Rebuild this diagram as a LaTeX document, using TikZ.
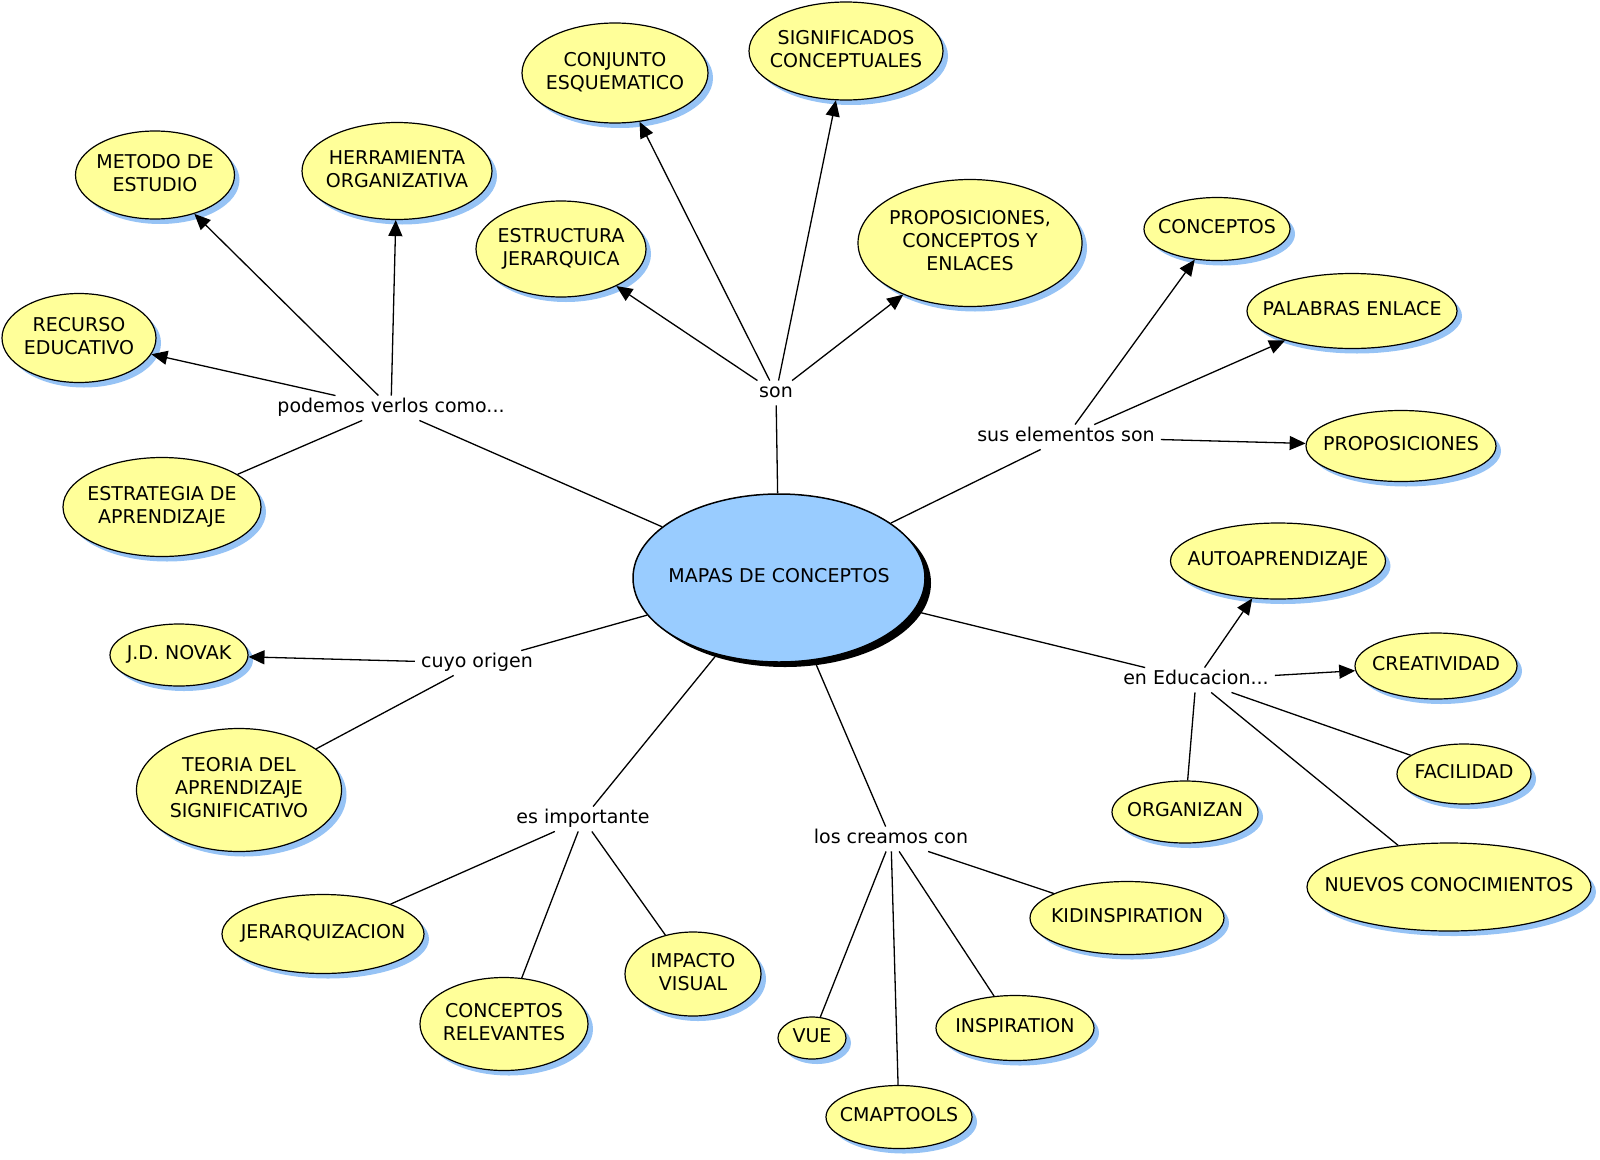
\documentclass[tikz,border=0pt]{standalone}
\usepackage{fontspec}
\setmainfont{DejaVu Sans}
\usetikzlibrary{shapes.geometric,shadows,arrows.meta}
\definecolor{cmyellow}{RGB}{255,255,153}
\definecolor{cmblue}{RGB}{153,204,255}
\definecolor{cmshadow}{RGB}{150,195,245}
\newcommand{\ctxt}[1]{\raisebox{-2pt}{\makebox[0pt]{\begin{tabular}{@{}c@{}}#1\end{tabular}}}}
\tikzset{
  concept/.style 2 args={ellipse, draw, line width=1.2pt, fill=cmyellow,
    minimum width=#1pt, minimum height=#2pt, inner sep=0pt,
    drop shadow={shadow xshift=5pt, shadow yshift=-5pt, fill=cmshadow, opacity=1}},
  linkword/.style={inner xsep=6pt, inner ysep=3pt, text height=14pt, text depth=4.5pt},
  ln/.style={line width=1.3pt},
  arr/.style={line width=1.3pt, -{Triangle[length=16pt,width=14pt]}},
}

\begin{document}
\begin{tikzpicture}[x=1pt, y=-1pt, node font=\fontsize{19}{23}\selectfont]
    \useasboundingbox (0,0) rectangle (1600,1159);
    \node[ellipse, draw, line width=1.5pt, fill=cmblue, minimum width=292pt, minimum height=168pt, inner sep=0pt,
          drop shadow={shadow xshift=6pt, shadow yshift=-5pt, fill=black, opacity=1}] (mapas) at (779,578) {\ctxt{MAPAS DE CONCEPTOS}};
    % palabras de enlace
    \node[linkword] (verlos) at (391,408) {podemos verlos como...};
    \node[linkword] (son) at (776,393) {son};
    \node[linkword] (elem) at (1066,437) {sus elementos son};
    \node[linkword] (educ) at (1196,680) {en Educacion...};
    \node[linkword] (creamos) at (891,839) {los creamos con};
    \node[linkword] (import) at (583,819) {es importante};
    \node[linkword] (origen) at (477,663) {cuyo origen};
    % conceptos
    \node[concept={159}{88}] (metodo) at (155,175) {\ctxt{METODO DE\\ESTUDIO}};
    \node[concept={190}{97}] (herram) at (397,171) {\ctxt{HERRAMIENTA\\ORGANIZATIVA}};
    \node[concept={154}{89}] (recurso) at (79,338) {\ctxt{RECURSO\\EDUCATIVO}};
    \node[concept={198}{99}] (estrat) at (162,507) {\ctxt{ESTRATEGIA DE\\APRENDIZAJE}};
    \node[concept={186}{100}] (conj) at (615,73) {\ctxt{CONJUNTO\\ESQUEMATICO}};
    \node[concept={194}{98}] (signif) at (846,51) {\ctxt{SIGNIFICADOS\\CONCEPTUALES}};
    \node[concept={170}{96}] (estruc) at (561,249) {\ctxt{ESTRUCTURA\\JERARQUICA}};
    \node[concept={224}{127}] (pce) at (970,243) {\ctxt{PROPOSICIONES,\\CONCEPTOS Y\\ENLACES}};
    \node[concept={146}{63}] (concep) at (1217,229) {\ctxt{CONCEPTOS}};
    \node[concept={210}{75}] (palab) at (1352,311) {\ctxt{PALABRAS ENLACE}};
    \node[concept={190}{71}] (propos) at (1401,446) {\ctxt{PROPOSICIONES}};
    \node[concept={215}{76}] (autoap) at (1278,561) {\ctxt{AUTOAPRENDIZAJE}};
    \node[concept={162}{66}] (creat) at (1436,666) {\ctxt{CREATIVIDAD}};
    \node[concept={134}{60}] (facil) at (1464,774) {\ctxt{FACILIDAD}};
    \node[concept={146}{62}] (organ) at (1185,812) {\ctxt{ORGANIZAN}};
    \node[concept={284}{88}] (nuevos) at (1449,887) {\ctxt{NUEVOS CONOCIMIENTOS}};
    \node[concept={194}{73}] (kidin) at (1127,918) {\ctxt{KIDINSPIRATION}};
    \node[concept={158}{65}] (inspir) at (1015,1028) {\ctxt{INSPIRATION}};
    \node[concept={146}{63}] (cmap) at (899,1117) {\ctxt{CMAPTOOLS}};
    \node[concept={68}{42}] (vue) at (812,1038) {\ctxt{VUE}};
    \node[concept={136}{84}] (impacto) at (693,974) {\ctxt{IMPACTO\\VISUAL}};
    \node[concept={168}{93}] (relev) at (504,1024) {\ctxt{CONCEPTOS\\RELEVANTES}};
    \node[concept={202}{79}] (jerarq) at (323,934) {\ctxt{JERARQUIZACION}};
    \node[concept={205}{123}] (teoria) at (239,790) {\ctxt{TEORIA DEL\\APRENDIZAJE\\SIGNIFICATIVO}};
    \node[concept={138}{62}] (novak) at (179,655) {\ctxt{J.D. NOVAK}};
    % conexiones
    \foreach \a/\b in {mapas/verlos, verlos/estrat, mapas/son, mapas/elem, mapas/educ,
        educ/organ, educ/facil, educ/nuevos, mapas/creamos, creamos/vue, creamos/cmap,
        creamos/inspir, creamos/kidin, mapas/import, import/jerarq, import/relev,
        import/impacto, mapas/origen, origen/teoria}
        \draw[ln] (\a) -- (\b);
    \foreach \a/\b in {verlos/metodo, verlos/herram, verlos/recurso, son/estruc, son/conj,
        son/signif, son/pce, elem/concep, elem/palab, elem/propos, educ/autoap,
        educ/creat, origen/novak}
        \draw[arr] (\a) -- (\b);
\end{tikzpicture}
\end{document}
